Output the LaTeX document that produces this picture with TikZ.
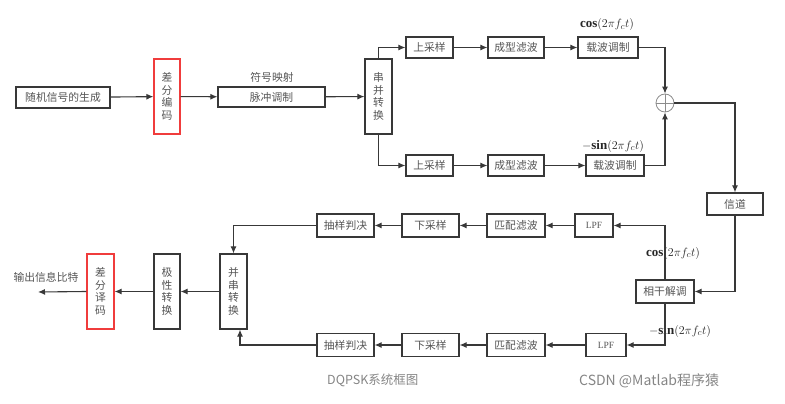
\documentclass[tikz,border=0pt]{standalone}
\usepackage{fontspec}
\setmainfont{Liberation Serif}
\newfontfamily\cjk{Noto Sans CJK SC}
\usetikzlibrary{arrows.meta,calc}
\definecolor{boxline}{HTML}{383838}
\definecolor{txt}{HTML}{555555}
\definecolor{redline}{HTML}{F03C3C}
\definecolor{capc}{HTML}{858585}
\begin{document}
\begin{tikzpicture}[x=1pt,y=-1pt,
  blk/.style={draw=boxline, line width=1.2pt, fill=white, inner sep=0pt,
    font=\cjk\fontsize{10.8}{12.5}\selectfont, text=txt, align=center},
  hblk/.style={blk, minimum height=21pt},
  vblk/.style={blk, minimum width=26pt, minimum height=75pt},
  redblk/.style={vblk, draw=redline},
  conn/.style={line width=1.1pt, draw=boxline, -{Latex[length=7pt,width=6pt]}},
  lbl/.style={font=\cjk\fontsize{10.8}{12}\selectfont, text=txt, inner sep=0pt},
  mlbl/.style={font=\fontsize{13}{15}\selectfont, text=black!85, inner sep=0pt},
  caplbl/.style={font=\cjk\fontsize{12.5}{14}\selectfont, text=capc, inner sep=0pt},
]
\useasboundingbox (0,0) rectangle (785,404);

% transmitter
\node[hblk, minimum width=94pt] (gen) at (63,97.5) {随机信号的生成};
\node[redblk] (diffenc) at (167,96.5) {差\\分\\编\\码};
\node[hblk, minimum width=107pt, minimum height=20pt] (pulse) at (271.5,97) {脉冲调制};
\node[lbl] (lblmap) at (272,77) {符号映射};
\node[vblk, minimum width=27pt] (sp) at (378.5,96.5) {串\\并\\转\\换};

\node[hblk, minimum width=47pt] (up1) at (429.5,47.5) {上采样};
\node[hblk, minimum width=56pt] (sh1) at (516,47.5) {成型滤波};
\node[hblk, minimum width=60pt] (mod1) at (608,47.5) {载波调制};
\node[hblk, minimum width=47pt] (up2) at (429.5,165.5) {上采样};
\node[hblk, minimum width=56pt] (sh2) at (516,165.5) {成型滤波};
\node[hblk, minimum width=58pt] (mod2) at (615,165.5) {载波调制};
\node[mlbl] (c1) at (607,25) {$\mathbf{cos}(2\pi f_c t)$};
\node[mlbl] (s1) at (613,146) {$-\mathbf{sin}(2\pi f_c t)$};

\node[draw=black!45, line width=0.8pt, circle, minimum size=18pt, inner sep=0pt] (sum) at (665,103) {};
\draw[black!45, line width=0.8pt] (sum.north) -- (sum.south) (sum.west) -- (sum.east);

\node[hblk, minimum width=56pt, minimum height=22pt] (chan) at (735,204) {信道};

% receiver
\node[hblk, minimum width=58pt, minimum height=23pt] (coh) at (665,291.5) {相干解调};
\node[mlbl] (c2) at (673,253) {$\mathbf{cos}(2\pi f_c t)$};
\node[mlbl] (s2) at (680,331) {$-\mathbf{sin}(2\pi f_c t)$};

\node[hblk, minimum width=38pt, minimum height=23pt, font=\fontsize{9.5}{11}\selectfont] (lpf1) at (594,225.5) {LPF};
\node[hblk, minimum width=58pt, minimum height=23pt] (mf1) at (516,225.5) {匹配滤波};
\node[hblk, minimum width=57pt, minimum height=23pt] (ds1) at (430.5,225.5) {下采样};
\node[hblk, minimum width=57pt, minimum height=23pt] (sd1) at (345.5,225.5) {抽样判决};
\node[hblk, minimum width=40pt, minimum height=23pt, font=\fontsize{9.5}{11}\selectfont] (lpf2) at (606,345) {LPF};
\node[hblk, minimum width=58pt, minimum height=23pt] (mf2) at (516,345) {匹配滤波};
\node[hblk, minimum width=57pt, minimum height=23pt] (ds2) at (430.5,345) {下采样};
\node[hblk, minimum width=57pt, minimum height=23pt] (sd2) at (345.5,345) {抽样判决};

\node[vblk, minimum width=27pt] (ps) at (233.5,291.5) {并\\串\\转\\换};
\node[vblk] (pol) at (167,291.5) {极\\性\\转\\换};
\node[redblk, minimum width=27pt] (diffdec) at (100.5,291.5) {差\\分\\译\\码};
\coordinate (out) at (38,292);
\node[lbl] (lblout) at (46,277) {输出信息比特};

% connectors (transmitter)
\draw[conn] (gen) -- (diffenc);
\draw[conn] (diffenc) -- (pulse);
\draw[conn] (pulse) -- (sp);
\draw[conn] (sp.north) |- (up1.west);
\draw[conn] (up1) -- (sh1);
\draw[conn] (sh1) -- (mod1);
\draw[conn] (sp.south) |- (up2.west);
\draw[conn] (up2) -- (sh2);
\draw[conn] (sh2) -- (mod2);
\draw[conn] (mod1.east) -| (sum.north);
\draw[conn] (mod2.east) -| (sum.south);
\draw[conn] (sum.east) -| (chan.north);

% connectors (receiver)
\draw[conn] (chan.south) |- (coh.east);
\draw[conn] (coh.north) |- (lpf1.east);
\draw[conn] (coh.south) |- (lpf2.east);
\draw[conn] (lpf1) -- (mf1);
\draw[conn] (mf1) -- (ds1);
\draw[conn] (ds1) -- (sd1);
\draw[conn] (lpf2) -- (mf2);
\draw[conn] (mf2) -- (ds2);
\draw[conn] (ds2) -- (sd2);
\draw[conn] (sd1.west) -| (ps.north);
\draw[conn] (sd2.west) -| ([xshift=6.5pt]ps.south);
\draw[conn] (ps) -- (pol);
\draw[conn] (pol) -- (diffdec);
\draw[conn] (diffdec.west) -- (out);

% captions
\node[caplbl, anchor=west] (cap) at (327,380) {DQPSK系统框图};
\node[caplbl, anchor=west, font=\cjk\fontsize{14}{16}\selectfont] (wm) at (579,381) {CSDN @Matlab程序猿};
\end{tikzpicture}
\end{document}
